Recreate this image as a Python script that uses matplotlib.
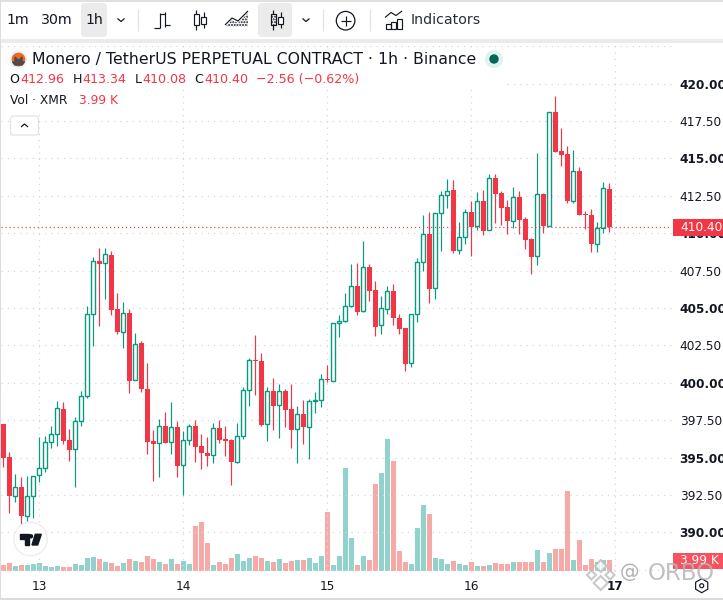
import matplotlib
matplotlib.use("Agg")
import matplotlib.pyplot as plt
from matplotlib.patches import Circle, FancyBboxPatch, Polygon, Rectangle, RegularPolygon

# ── Data ──────────────────────────────────────────────────────────────────────
opens = [397.24, 395.01, 392.41, 393.03, 391.07, 392.41, 393.81, 394.28, 396.01, 396.55,
         398.24, 396.17, 395.55, 397.42, 399.09, 404.57, 408.11, 407.98, 408.51, 404.90,
         403.37, 404.64, 400.16, 402.63, 399.58, 396.10, 395.95, 397.11, 396.01, 397.02,
         394.48, 396.15, 397.11, 395.77, 395.28, 395.15, 396.97, 396.17, 396.15, 394.68,
         396.42, 399.49, 401.52, 401.43, 397.22, 399.45, 398.49, 399.45, 398.24, 396.88,
         397.91, 397.02, 398.75, 398.82, 400.23, 400.14, 403.97, 404.10, 405.11, 406.47,
         404.77, 407.71, 406.20, 403.84, 404.91, 406.13, 404.33, 403.66, 401.30, 404.57,
         408.05, 409.94, 406.31, 411.32, 412.52, 412.88, 408.85, 409.72, 411.41, 410.45,
         412.15, 410.19, 413.68, 412.68, 411.75, 410.83, 412.41, 410.94, 409.61, 408.45,
         412.61, 410.50, 418.10, 415.49, 415.29, 412.17, 414.15, 411.28, 411.19, 409.30,
         410.32, 412.96]
highs = [397.24, 395.37, 393.90, 393.70, 393.76, 393.79, 396.37, 396.44, 397.11, 398.78,
         398.71, 396.91, 397.71, 399.45, 405.13, 408.38, 409.00, 409.00, 408.78, 406.00,
         405.40, 404.93, 403.32, 402.79, 401.32, 396.84, 397.57, 398.04, 398.71, 397.44,
         396.77, 397.24, 397.51, 396.55, 396.37, 397.31, 397.51, 397.11, 396.24, 397.31,
         399.71, 401.65, 403.19, 401.99, 399.71, 400.31, 399.91, 399.58, 399.94, 398.44,
         398.84, 398.91, 399.38, 400.58, 401.18, 403.97, 404.53, 406.00, 407.94, 408.00,
         409.47, 407.94, 406.78, 405.80, 406.47, 406.60, 404.57, 403.66, 404.57, 408.34,
         411.21, 411.41, 411.32, 412.79, 413.62, 413.55, 410.74, 411.61, 412.15, 412.75,
         412.88, 413.95, 413.95, 412.82, 412.21, 413.08, 412.82, 411.08, 409.67, 415.36,
         412.68, 418.07, 419.17, 417.03, 415.82, 415.56, 414.42, 411.48, 411.61, 410.74,
         413.42, 413.34]
lows = [394.39, 391.31, 392.05, 390.56, 390.78, 390.98, 393.39, 394.05, 395.66, 395.79,
        395.93, 394.79, 393.05, 397.13, 399.00, 402.48, 403.81, 405.60, 404.55, 403.28,
        402.34, 399.33, 400.16, 399.40, 395.26, 393.45, 393.72, 395.99, 395.23, 393.72,
        392.49, 395.84, 394.72, 394.23, 394.43, 394.63, 395.99, 395.10, 393.16, 394.65,
        396.24, 398.44, 399.20, 397.11, 396.13, 396.84, 396.33, 397.04, 395.66, 394.63,
        395.90, 394.92, 398.00, 398.38, 400.05, 400.14, 403.06, 404.08, 405.08, 404.53,
        404.75, 405.48, 403.15, 403.28, 404.62, 403.86, 403.28, 400.78, 401.07, 404.08,
        407.49, 405.35, 405.62, 408.83, 411.70, 408.69, 408.63, 409.29, 408.49, 410.21,
        409.90, 410.19, 410.68, 410.54, 409.96, 410.36, 409.96, 408.96, 407.29, 407.89,
        410.03, 410.50, 415.44, 414.49, 412.01, 412.01, 411.23, 410.27, 408.76, 408.76,
        410.01, 410.08]
closes = [394.99, 392.45, 393.01, 391.11, 392.41, 393.79, 394.28, 396.01, 396.55, 398.29,
          396.13, 395.52, 397.42, 399.09, 404.57, 408.11, 407.96, 408.58, 404.88, 403.41,
          404.64, 400.14, 402.57, 399.60, 396.06, 395.93, 397.08, 395.99, 397.02, 394.45,
          396.15, 397.08, 395.72, 395.32, 395.12, 396.95, 396.19, 396.13, 394.72, 396.42,
          399.49, 401.50, 401.47, 397.17, 399.42, 398.47, 399.42, 398.20, 396.86, 397.89,
          397.06, 398.75, 398.82, 400.22, 400.18, 403.97, 404.10, 405.11, 406.44, 404.75,
          407.71, 406.15, 403.75, 404.97, 406.11, 404.35, 403.61, 401.27, 404.57, 408.05,
          409.92, 406.29, 411.32, 412.52, 412.84, 408.83, 409.72, 411.39, 410.41, 412.15,
          410.16, 413.66, 412.64, 411.70, 410.83, 412.39, 410.90, 409.56, 408.43, 412.59,
          410.50, 418.07, 415.44, 415.24, 412.17, 414.13, 411.23, 411.23, 409.30, 410.32,
          412.99, 410.40]
volumes = [2.18, 2.90, 1.82, 2.18, 2.18, 2.54, 2.90, 1.82, 1.45, 1.82,
           1.45, 1.45, 2.54, 2.18, 4.72, 5.08, 4.36, 3.27, 2.90, 1.82,
           2.90, 4.36, 3.63, 3.27, 5.45, 4.36, 3.27, 2.54, 4.36, 2.54,
           3.63, 2.54, 16.3, 17.8, 10.2, 2.18, 3.27, 2.54, 4.72, 6.17,
           3.63, 4.72, 5.45, 4.72, 3.63, 3.27, 4.36, 2.90, 3.63, 3.99,
           3.99, 4.72, 2.90, 5.45, 21.4, 2.18, 5.45, 37.4, 12.0, 2.18,
           5.45, 3.99, 31.6, 35.6, 47.9, 39.9, 7.26, 3.27, 2.54, 15.6,
           24.0, 20.7, 4.72, 4.36, 2.54, 3.63, 2.54, 2.18, 3.27, 1.82,
           1.82, 2.18, 2.90, 2.54, 2.54, 3.27, 3.27, 3.27, 3.27, 7.62,
           3.27, 6.53, 7.99, 7.99, 29.0, 3.99, 11.3, 2.18, 4.36, 3.27,
           3.99, 3.99]
price_ticks = [387.5, 390, 392.5, 395, 397.5, 400, 402.5, 405, 407.5, 410, 412.5, 415, 417.5, 420, 422.5]
day_ticks = [6, 30, 54, 78, 102]
day_labels = ["13", "14", "15", "16", "17"]
last_price = 410.40

UP = "#089981"
DOWN = "#f23645"
UP_VOL = "#92d2cc"
DOWN_VOL = "#f7a9a7"
INK = "#131722"
GRID = "#d6d8dc"
PANEL = "#ebebeb"

W, H = 723, 600
fig = plt.figure(figsize=(W / 100, H / 100), dpi=100, facecolor="white")

# ── Chart area: price on top, volume on a twin axis ───────────────────────────
ax = fig.add_axes([1 / W, 28 / H, 671 / W, 529 / H])
vol_ax = ax.twinx()
ax.set_zorder(vol_ax.get_zorder() + 1)
ax.patch.set_visible(False)
vol_ax.set_facecolor("white")

x = list(range(len(opens)))
vol_colors = [UP_VOL if c >= o else DOWN_VOL for o, c in zip(opens, closes)]
vol_ax.bar(x, volumes, width=0.82, color=vol_colors, linewidth=0)
vol_ax.set_ylim(-0.36, 191.7)
vol_ax.set_yticks([])

for i in x:
    up = closes[i] >= opens[i]
    col = UP if up else DOWN
    ax.vlines(i, lows[i], highs[i], color=col, linewidth=0.85, zorder=3)
    bottom = min(opens[i], closes[i])
    height = max(abs(closes[i] - opens[i]), 0.08)
    if up:
        ax.bar(i, height, bottom=bottom, width=0.68, facecolor="white", edgecolor=col,
               linewidth=1.0, zorder=4)
    else:
        ax.bar(i, height, bottom=bottom, width=0.82, color=col, linewidth=0, zorder=4)

ax.axhline(last_price, color=DOWN, linewidth=0.85, linestyle=(0, (1, 2.4)), zorder=5)

ax.set_xlim(-0.383, 111.45)
ax.set_ylim(387.35, 422.71)
ax.set_axisbelow(True)
ax.grid(True, color=GRID, linewidth=0.9, linestyle=(0, (1, 4)))
ax.yaxis.tick_right()
ax.set_yticks(price_ticks)
ax.set_yticklabels(["" if p in (387.5, 422.5) else f"{p:.2f}" for p in price_ticks])
ax.set_xticks(day_ticks)
ax.set_xticklabels(day_labels)
ax.tick_params(axis="both", length=0, labelcolor=INK, labelsize=8.7)
ax.tick_params(axis="y", pad=5.5)
ax.tick_params(axis="x", pad=6)
for p, lab in zip(price_ticks, ax.get_yticklabels()):
    if p % 5 == 0:
        lab.set_fontweight("bold")
ax.get_xticklabels()[-1].set_fontweight("bold")
for a in (ax, vol_ax):
    for spine in a.spines.values():
        spine.set_visible(False)

# ── Interface layer in pixel coordinates ──────────────────────────────────────
ui = fig.add_axes([0, 0, 1, 1], zorder=10)
ui.set_xlim(0, W)
ui.set_ylim(H, 0)
ui.axis("off")
ui.patch.set_visible(False)


def box(x0, y0, x1, y1, **kw):
    ui.add_patch(Rectangle((x0, y0), x1 - x0, y1 - y0, linewidth=0, **kw))


def rounded(x0, y0, x1, y1, r=4, **kw):
    ui.add_patch(FancyBboxPatch((x0 + r, y0 + r), x1 - x0 - 2 * r, y1 - y0 - 2 * r,
                                boxstyle=f"round,pad={r},rounding_size={r}", **kw))


def line(xs, ys, color=INK, lw=0.85):
    ui.plot(xs, ys, color=color, linewidth=lw, solid_capstyle="butt", solid_joinstyle="miter")


def chevron(cx, cy, up=False):
    d = -3 if up else 3
    line([cx - 3.5, cx, cx + 3.5], [cy - d / 2, cy + d / 2, cy - d / 2], lw=0.9)


def label(px, py, s, color=INK, size=9.0, **kw):
    ui.text(px, py, s, color=color, fontsize=size, va="center", **kw)


# frame and toolbar band
box(0, 0, W, 1.5, color="#e0e0e0")
box(0, 39, W, 43, color=PANEL)
box(0, 0, 1.3, H, color="#dcdcdc")
box(0, 598, W, H, color="#dcdcdc")
box(1.3, 1.5, W, 39, color="white")

# toolbar
rounded(81, 3, 107, 37, r=4, facecolor=PANEL, edgecolor="none")
rounded(258, 3, 292, 37, r=4, facecolor=PANEL, edgecolor="none")
label(18, 20, "1m", size=10.2, ha="center")
label(57, 20, "30m", size=10.2, ha="center")
label(94, 20, "1h", size=10.2, ha="center")
chevron(121, 20)
chevron(306, 20)
for sx in (137.5, 322.5, 369.5):
    line([sx, sx], [9, 31], color="#e0e3eb", lw=0.9)

# bars icon
line([159.5, 159.5], [13, 28])
line([154, 159.5], [27.5, 27.5])
line([159.5, 165], [14, 14])
line([165, 165], [12, 27])
line([165, 169.5], [24.5, 24.5])
# candles icon
for off, filled in ((0, False), (77, True)):
    line([196 + off, 196 + off], [10, 30])
    line([203.5 + off, 203.5 + off], [12, 28])
    ui.add_patch(Rectangle((193.5 + off, 14), 5, 11, facecolor="white", edgecolor=INK, linewidth=0.85,
                           hatch="......" if filled else None, zorder=3))
    ui.add_patch(Rectangle((201 + off, 17), 5, 7, facecolor="white", edgecolor=INK, linewidth=0.85, zorder=3))
# area icon
ui.add_patch(Polygon([(225, 27), (232, 20), (238, 23), (248, 13), (248, 27)], facecolor="white",
                     edgecolor=INK, linewidth=0, hatch="......"))
line([225, 232, 238, 248], [25, 18, 21, 11])
# plus
ui.add_patch(Circle((345.6, 20.7), 9.3, facecolor="none", edgecolor=INK, linewidth=0.9))
line([340.5, 350.7], [20.7, 20.7])
line([345.6, 345.6], [15.5, 26])
# indicators
line([385, 391, 396, 402], [17.5, 12.5, 15.5, 11])
for bx, by in ((386, 24), (391, 22), (397, 18.5)):
    ui.add_patch(Rectangle((bx, by), 5, 28.5 - by, facecolor="none", edgecolor=INK, linewidth=0.85))
label(411, 20, "Indicators", size=10.2, color="#2a2e39")

# legend masks the grid behind it
box(1.3, 49, 505, 89, color="white")
box(1.3, 89, 125, 110, color="white")

# symbol logo and title
ui.add_patch(Circle((18.5, 59.5), 8.3, color="#f0f3fa"))
ui.add_patch(Circle((18.5, 59.5), 6.2, color="#f26822"))
ui.add_patch(Polygon([(12.6, 62), (15, 62), (15, 57), (18.5, 60.5), (22, 57), (22, 62), (24.4, 62),
                      (22, 65), (15, 65)], color="#4c4c4c"))
label(32, 59.5, "Monero / TetherUS PERPETUAL CONTRACT · 1h · Binance", size=11.3)
ui.add_patch(Circle((494, 59), 8.3, color="#dff3f0"))
ui.add_patch(Circle((494, 59), 4, color="#056656"))

# OHLC legend
for px, s, col in ((9.5, "O", INK), (20.7, "412.96", DOWN), (72.7, "H", INK), (82.7, "413.34", DOWN),
                   (134.3, "L", INK), (142.7, "410.08", DOWN), (194.3, "C", INK), (204, "410.40", DOWN),
                   (255.7, "−2.56 (−0.62%)", DOWN)):
    label(px, 79.5, s, color=col, size=9.1)
label(10, 100.5, "Vol · XMR", size=8.8)
label(79, 100.5, "3.99 K", color=DOWN, size=8.8)

# collapse button
rounded(10.5, 116, 38.5, 135, r=2.5, facecolor="white", edgecolor="#e0e3eb", linewidth=0.9)
chevron(24.5, 125.5, up=True)

# price and volume tags
box(673, 219, W, 236, color=DOWN)
label(680, 227.8, "410.40", color="white", size=8.7)
box(673, 553, W, 569, color="#f7525f")
label(680, 561, "3.99 K", color="white", size=8.7)

# TradingView mark
ui.add_patch(Circle((30.5, 539), 16.8, facecolor="white", edgecolor="#eeeeee", linewidth=1))
ui.add_patch(Polygon([(20, 534.3), (29.3, 534.3), (29.3, 545), (24.7, 545), (24.7, 539.3), (20, 539.3)], color=INK))
ui.add_patch(Circle((31, 536.3), 1.5, color=INK))
ui.add_patch(Polygon([(32, 545), (37.7, 545), (41.3, 534.3), (35.3, 534.3)], color=INK))

# scale settings icon
ui.add_patch(RegularPolygon((701.7, 585.7), 6, radius=7, orientation=0, facecolor="white",
                            edgecolor=INK, linewidth=0.85))
ui.add_patch(Circle((701.7, 585.7), 2, facecolor="none", edgecolor=INK, linewidth=0.85))

# watermark
for cx, cy, r in ((600.7, 566, 6), (591.5, 575, 4.5), (610, 575, 4.5), (600.7, 583, 7)):
    ui.add_patch(RegularPolygon((cx, cy), 4, radius=r, facecolor="#ffffff", edgecolor="#bcbcbc",
                                linewidth=1.5, alpha=0.8))
ui.text(629.5, 572.5, "@", color="#aaaaaa", fontsize=14, ha="center", va="center", alpha=0.9)
ui.text(648, 573, "ORBO", color="#b5b5b5", fontsize=16.5, ha="left", va="center", alpha=0.85)

fig.savefig("out.png", dpi=100)
